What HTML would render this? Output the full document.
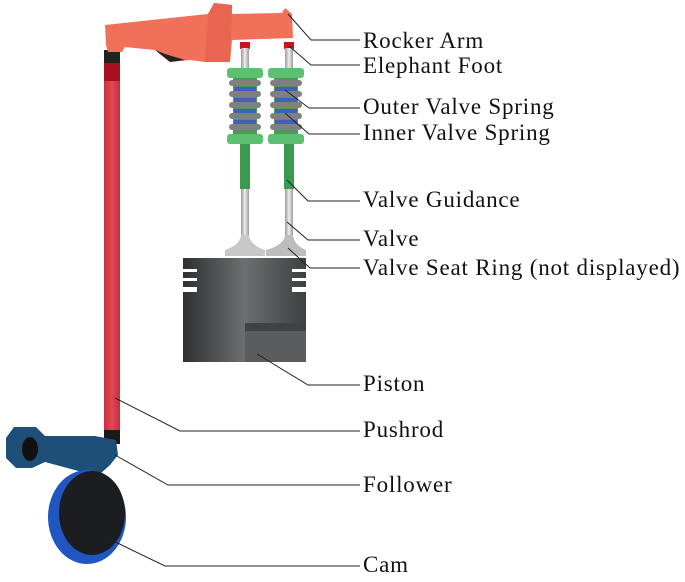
<!DOCTYPE html>
<html><head><meta charset="utf-8"><style>
html,body{margin:0;padding:0;background:#fff;}
text{font-family:"Liberation Serif",serif;font-size:23px;letter-spacing:0.8px;fill:#111;}
</style></head><body>
<svg width="685" height="577" viewBox="0 0 685 577" xmlns="http://www.w3.org/2000/svg">
<defs>
<linearGradient id="pis" x1="0" x2="1" y1="0" y2="0">
<stop offset="0" stop-color="#2e3032"/><stop offset="0.5" stop-color="#6c6e70"/><stop offset="1" stop-color="#3e4042"/></linearGradient>
<linearGradient id="stem" x1="0" x2="1"><stop offset="0" stop-color="#999"/><stop offset="0.5" stop-color="#eee"/><stop offset="1" stop-color="#999"/></linearGradient>
<linearGradient id="rod" x1="0" x2="1"><stop offset="0" stop-color="#c8303a"/><stop offset="0.5" stop-color="#e04858"/><stop offset="1" stop-color="#c03038"/></linearGradient>
</defs>
<rect x="104" y="50" width="16" height="390" fill="url(#rod)"/>
<rect x="104" y="50" width="16" height="13" fill="#222"/>
<rect x="104" y="63" width="16" height="18" fill="#a81020"/>
<rect x="104" y="430" width="16" height="14" fill="#1a1a1a"/>
<path d="M105,25 L208,14 L214,3 L232,5 L232,14 L282,13 L285,8 L292,14 L293,38 L232,40 L230,62 L205,62 L190,60 L170,62 L155,50 L125,47 L122,52 L108,52 L106,45 Z" fill="#f0705a"/>
<path d="M155,50 L170,62 L185,60 L165,54 Z" fill="#222"/>
<path d="M208,14 L214,3 L232,5 L230,62 L205,62 Z" fill="#e86552"/>
<g>
<rect x="240" y="42" width="10" height="7" fill="#d01020"/>
<rect x="284" y="42" width="10" height="7" fill="#d01020"/>
<rect x="241" y="48" width="8" height="200" fill="url(#stem)"/>
<rect x="285" y="48" width="8" height="200" fill="url(#stem)"/>
<path d="M241,235 Q240,245 225,250 L225,256 L265,256 L265,250 Q250,245 249,235 Z" fill="#c8c8c8"/>
<path d="M285,235 Q284,245 266,250 L266,256 L306,256 L306,250 Q294,245 293,235 Z" fill="#bdbdbd"/>
<rect x="240" y="144" width="10" height="45" fill="#3a9a50"/>
<rect x="284" y="144" width="10" height="45" fill="#3a9a50"/>
<g id="spr">
<rect x="227" y="68" width="36" height="10" rx="3" fill="#5cc070"/>
<rect x="233" y="78" width="24" height="64" fill="#4a9a5a"/>
<g fill="#808080"><rect x="229" y="80" width="32" height="6" rx="3"/><rect x="229" y="91" width="32" height="6" rx="3"/><rect x="229" y="102" width="32" height="6" rx="3"/><rect x="229" y="113" width="32" height="6" rx="3"/><rect x="229" y="124" width="32" height="6" rx="3"/></g>
<g fill="#4060c0"><rect x="234" y="87" width="22" height="4"/><rect x="234" y="98" width="22" height="4"/><rect x="234" y="109" width="22" height="4"/><rect x="234" y="120" width="22" height="4"/></g>
<rect x="227" y="134" width="36" height="10" rx="3" fill="#5cc070"/>
</g>
<use href="#spr" x="41"/>
</g>
<rect x="183" y="258" width="123" height="104" fill="url(#pis)"/>
<g fill="#fff"><rect x="183" y="269" width="14" height="3"/><rect x="183" y="278" width="14" height="3"/><rect x="183" y="287" width="14" height="5"/><rect x="292" y="269" width="14" height="3"/><rect x="292" y="278" width="14" height="3"/><rect x="292" y="287" width="14" height="5"/></g>
<rect x="245" y="323" width="61" height="39" fill="#5a5c5e"/>
<rect x="245" y="323" width="61" height="8" fill="#404244"/>
<path d="M82,472 Q95,478 100,474 L110,465 L118,455 L116,440 L95,436 L45,436 L36,427 L14,427 L6,438 L6,458 L16,468 L32,468 L45,462 Z" fill="#1e4f78"/>
<ellipse cx="30" cy="449" rx="8" ry="12" fill="#111"/>
<ellipse cx="87" cy="475" rx="11" ry="4" fill="#2fcf4f"/>
<ellipse cx="87" cy="517" rx="39" ry="47" fill="#1f56c0"/>
<ellipse cx="92" cy="513" rx="33" ry="42" fill="#1b1d20"/>
<g stroke="#222" stroke-width="1" fill="none">
<polyline points="288,14 311,40 360,40"/>
<polyline points="289,46 311,65 360,65"/>
<polyline points="285,90 309,108 360,108"/>
<polyline points="285,113 309,134 360,134"/>
<polyline points="287,180 308,201 360,201"/>
<polyline points="287,222 308,240 360,240"/>
<polyline points="288,248 310,268 360,268"/>
<polyline points="257,354 308,385 360,385"/>
<polyline points="115,398 180,431 360,431"/>
<polyline points="115,455 168,485 360,485"/>
<polyline points="105,537 165,566 360,566"/>
</g>
<text x="363" y="48">Rocker Arm</text>
<text x="363" y="73">Elephant Foot</text>
<text x="363" y="114">Outer Valve Spring</text>
<text x="363" y="140">Inner Valve Spring</text>
<text x="363" y="207">Valve Guidance</text>
<text x="363" y="246">Valve</text>
<text x="363" y="275">Valve Seat Ring (not displayed)</text>
<text x="363" y="391">Piston</text>
<text x="363" y="437">Pushrod</text>
<text x="363" y="492">Follower</text>
<text x="363" y="572">Cam</text>
</svg>
</body></html>
